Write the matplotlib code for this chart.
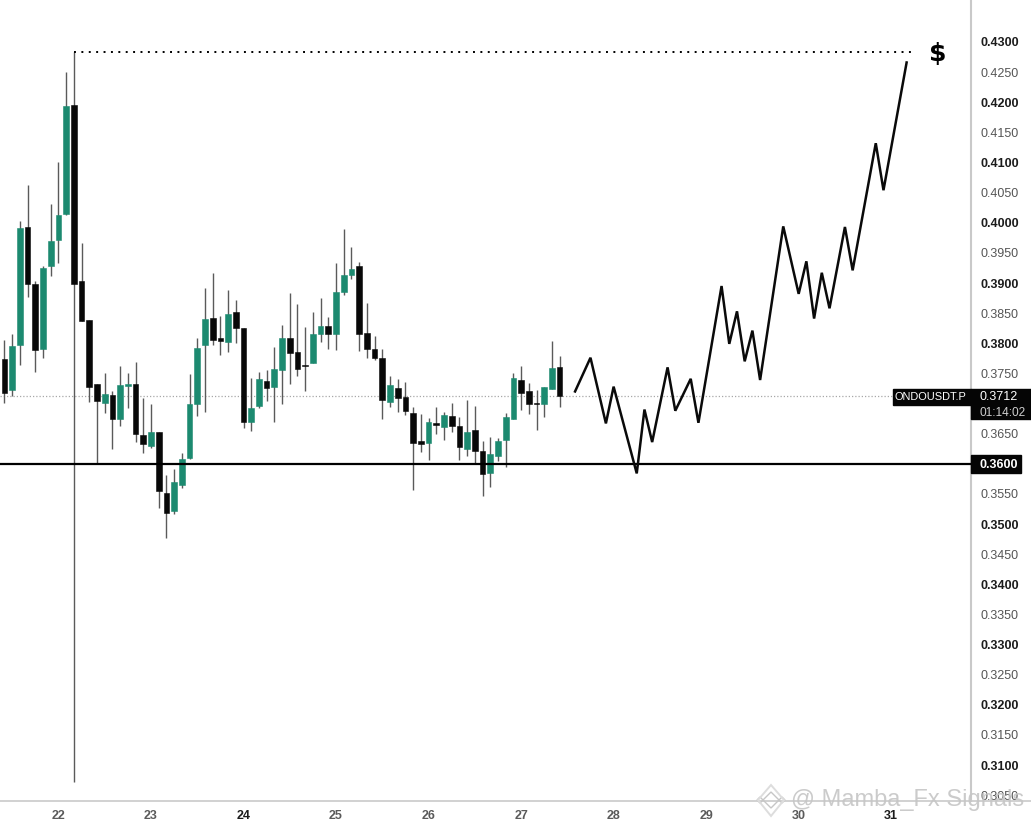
import matplotlib
matplotlib.use("Agg")
import matplotlib.pyplot as plt
from matplotlib.lines import Line2D
from matplotlib.patches import Rectangle, Polygon

# ONDOUSDT.P candles, 12 per day
opens = [0.3774, 0.3722, 0.3797, 0.3993, 0.3899, 0.3790, 0.3928, 0.3971, 0.4014, 0.4195,
         0.3903, 0.3838, 0.3733, 0.3701, 0.3714, 0.3674, 0.3729, 0.3732, 0.3648, 0.3629,
         0.3653, 0.3552, 0.3522, 0.3565, 0.3609, 0.3700, 0.3797, 0.3842, 0.3808, 0.3802,
         0.3852, 0.3826, 0.3669, 0.3696, 0.3738, 0.3728, 0.3756, 0.3808, 0.3785, 0.3764,
         0.3767, 0.3816, 0.3828, 0.3815, 0.3885, 0.3914, 0.3929, 0.3817, 0.3791, 0.3776,
         0.3702, 0.3726, 0.3711, 0.3685, 0.3638, 0.3634, 0.3668, 0.3661, 0.3680, 0.3663,
         0.3624, 0.3656, 0.3621, 0.3584, 0.3613, 0.3639, 0.3675, 0.3739, 0.3720, 0.3701,
         0.3699, 0.3724, 0.3761]
closes = [0.3718, 0.3796, 0.3991, 0.3898, 0.3788, 0.3925, 0.3970, 0.4013, 0.4194, 0.3899,
          0.3837, 0.3727, 0.3704, 0.3715, 0.3675, 0.3731, 0.3733, 0.3649, 0.3632, 0.3652,
          0.3555, 0.3518, 0.3570, 0.3608, 0.3699, 0.3792, 0.3841, 0.3805, 0.3804, 0.3849,
          0.3825, 0.3670, 0.3693, 0.3740, 0.3725, 0.3758, 0.3809, 0.3784, 0.3758, 0.3763,
          0.3816, 0.3829, 0.3815, 0.3885, 0.3914, 0.3923, 0.3816, 0.3791, 0.3775, 0.3706,
          0.3731, 0.3709, 0.3687, 0.3634, 0.3632, 0.3670, 0.3664, 0.3681, 0.3663, 0.3627,
          0.3653, 0.3622, 0.3583, 0.3616, 0.3638, 0.3678, 0.3743, 0.3718, 0.3699, 0.3700,
          0.3727, 0.3759, 0.3712]
highs = [0.3805, 0.3815, 0.4003, 0.4063, 0.3904, 0.3928, 0.4031, 0.4101, 0.4251, 0.4283,
         0.3967, 0.3838, 0.3733, 0.3750, 0.3720, 0.3762, 0.3750, 0.3769, 0.3709, 0.3699,
         0.3653, 0.3581, 0.3591, 0.3618, 0.3749, 0.3809, 0.3891, 0.3916, 0.3845, 0.3889,
         0.3871, 0.3826, 0.3742, 0.3753, 0.3756, 0.3793, 0.3830, 0.3883, 0.3865, 0.3827,
         0.3852, 0.3875, 0.3844, 0.3933, 0.3989, 0.3960, 0.3935, 0.3867, 0.3812, 0.3791,
         0.3746, 0.3740, 0.3735, 0.3694, 0.3682, 0.3676, 0.3695, 0.3686, 0.3701, 0.3677,
         0.3706, 0.3696, 0.3638, 0.3644, 0.3643, 0.3684, 0.3751, 0.3762, 0.3734, 0.3722,
         0.3727, 0.3804, 0.3779]
lows = [0.3701, 0.3712, 0.3764, 0.3877, 0.3753, 0.3775, 0.3912, 0.3934, 0.4013, 0.3072,
        0.3837, 0.3703, 0.3601, 0.3685, 0.3624, 0.3663, 0.3692, 0.3636, 0.3618, 0.3626,
        0.3526, 0.3476, 0.3516, 0.3559, 0.3608, 0.3679, 0.3686, 0.3797, 0.3780, 0.3785,
        0.3801, 0.3659, 0.3655, 0.3693, 0.3705, 0.3670, 0.3700, 0.3733, 0.3746, 0.3720,
        0.3767, 0.3802, 0.3791, 0.3789, 0.3880, 0.3907, 0.3787, 0.3775, 0.3772, 0.3674,
        0.3694, 0.3686, 0.3681, 0.3556, 0.3620, 0.3606, 0.3649, 0.3639, 0.3653, 0.3607,
        0.3613, 0.3601, 0.3547, 0.3561, 0.3605, 0.3595, 0.3675, 0.3690, 0.3682, 0.3656,
        0.3678, 0.3724, 0.3695]

# hand drawn projection
path_x = [74, 76, 78, 79, 82, 83, 84, 86, 87, 89, 90, 93, 94, 95, 96, 97, 98, 101,
          103, 104, 105, 106, 107, 109, 110, 113, 114, 117]
path_y = [0.3720, 0.3776, 0.3667, 0.3728, 0.3584, 0.3690, 0.3636, 0.3760, 0.3688, 0.3741,
          0.3668, 0.3895, 0.3799, 0.3853, 0.3770, 0.3821, 0.3739, 0.3994, 0.3882, 0.3936,
          0.3841, 0.3917, 0.3858, 0.3993, 0.3921, 0.4132, 0.4054, 0.4266]

target_price = 0.4283
target_start = 9
target_end = 118
support_price = 0.3600
last_price = 0.3712

day_labels = ["22", "23", "24", "25", "26", "27", "28", "29", "30", "31"]
day_ticks = [7, 19, 31, 43, 55, 67, 79, 91, 103, 115]
bold_days = ["24", "31"]
# 0.3600 and 0.3700 sit under the tags on the price scale
price_ticks = [0.3050 + 0.005 * k for k in range(26) if k not in (11, 13)]

W, H = 1031, 825
GREEN = "#1c8a70"
BLACK = "#080808"
WICK = "#5a5a5a"
AXIS = "#c9c9c9"
SANS = "Liberation Sans"

plt.rcParams["font.family"] = [SANS, "DejaVu Sans"]

fig = plt.figure(figsize=(W / 100, H / 100), dpi=100, facecolor="white")
ax = fig.add_axes([0, 24 / H, 971 / W, 801 / H])
ax.set_xlim(-0.58, 125.35)
ax.set_ylim(0.30403, 0.43697)

idx = list(range(len(opens)))
colors = [GREEN if c >= o else BLACK for o, c in zip(opens, closes)]
tops = [max(o, c) for o, c in zip(opens, closes)]
bots = [min(o, c) for o, c in zip(opens, closes)]
heights = [t - b for t, b in zip(tops, bots)]

ax.axhline(last_price, color="#a8a8a8", lw=0.9, ls=(0, (1, 1.6)), xmax=893 / 971, zorder=1)
ax.vlines(idx, lows, highs, color=WICK, lw=1.0, zorder=2)
ax.bar(idx, heights, bottom=bots, width=0.74, color=colors, edgecolor=colors, lw=0.4, zorder=3)
ax.axhline(support_price, color="#000000", lw=1.6, zorder=4)
ax.hlines(target_price, target_start, target_end, color="#000000", lw=1.4, ls=(0, (1, 2.8)), zorder=4)
ax.plot(path_x, path_y, color="#0a0a0a", lw=1.8, solid_joinstyle="miter", zorder=5)
ax.text(121, target_price - 1.5 / 6025, "$", family="DejaVu Sans", fontsize=18, fontweight="bold",
        ha="center", va="center", color="#000000")

for side in ["top", "left"]:
    ax.spines[side].set_visible(False)
ax.spines["right"].set_color(AXIS)
ax.spines["right"].set_linewidth(1.5)
ax.spines["bottom"].set_color(AXIS)
ax.spines["bottom"].set_linewidth(1.2)

ax.yaxis.tick_right()
ax.set_yticks(price_ticks)
ax.set_yticklabels([f"{p:.4f}" for p in price_ticks])
ax.tick_params(axis="y", length=0, pad=6.5, labelsize=9)
for p, lab in zip(price_ticks, ax.get_yticklabels()):
    if round(p * 1000) % 10 == 0:
        lab.set_fontweight("bold")
        lab.set_color("#1c1c1c")
    else:
        lab.set_color("#555555")

ax.set_xticks(day_ticks)
ax.set_xticklabels(day_labels)
ax.tick_params(axis="x", length=0, pad=6.5, labelsize=9)
for lab in ax.get_xticklabels():
    lab.set_fontweight("bold")
    lab.set_color("#1c1c1c" if lab.get_text() in bold_days else "#5a5a5a")

# price scale tags
ytrans = ax.get_yaxis_transform()
to_ax = 1 / 971
to_price = 1 / 6025
ax.add_patch(Rectangle((893 * to_ax, last_price - 8.7 * to_price), 78 * to_ax, 16 * to_price,
                       transform=ytrans, color="#050505", clip_on=False, zorder=6))
ax.add_patch(Rectangle((1, last_price - 22.7 * to_price), 60 * to_ax, 30 * to_price,
                       transform=ytrans, color="#050505", clip_on=False, zorder=6))
ax.add_patch(Rectangle((1, support_price - 9 * to_price), 50 * to_ax, 17.5 * to_price,
                       transform=ytrans, color="#050505", clip_on=False, zorder=6))
ax.text(966 * to_ax, last_price - 1 * to_price, "ONDOUSDT.P", transform=ytrans, ha="right", va="center",
        fontsize=7.9, color="white", zorder=7)
ax.text(980 * to_ax, last_price - 1 * to_price, f"{last_price:.4f}", transform=ytrans, va="center",
        fontsize=9, color="white", zorder=7, clip_on=False)
ax.text(980 * to_ax, last_price - 16.5 * to_price, "01:14:02", transform=ytrans, va="center",
        fontsize=8.6, color="#cfcfcf", zorder=7, clip_on=False)
ax.text(980 * to_ax, support_price - 1.5 * to_price, f"{support_price:.4f}", transform=ytrans, va="center",
        fontsize=9, fontweight="bold", color="white", zorder=7, clip_on=False)


def fx(px):
    return px / W


def fy(py):
    return 1 - py / H


# scale baseline carries on under the price axis
fig.add_artist(Line2D([fx(971), 1], [fy(801), fy(801)], color=AXIS, lw=1.2))

# watermark
wm = "#c6c6c6"
for cx, cy, r in [(771, 800, 8), (760, 800, 3), (782, 800, 3)]:
    fig.add_artist(Polygon([(fx(cx - r), fy(cy)), (fx(cx), fy(cy - r)),
                            (fx(cx + r), fy(cy)), (fx(cx), fy(cy + r))],
                           closed=True, fill=False, edgecolor=wm, lw=1.0,
                           transform=fig.transFigure))
fig.add_artist(Polygon([(fx(771), fy(785)), (fx(784), fy(800)), (fx(771), fy(816)), (fx(758), fy(800))],
                       closed=True, fill=False, edgecolor="#dddddd", lw=1.4, transform=fig.transFigure))
fig.text(fx(791), fy(800), "@ Mamba_Fx Signals", fontsize=17, color=wm, va="center", ha="left", alpha=0.9)

fig.savefig("out.png", dpi=100, facecolor="white")
